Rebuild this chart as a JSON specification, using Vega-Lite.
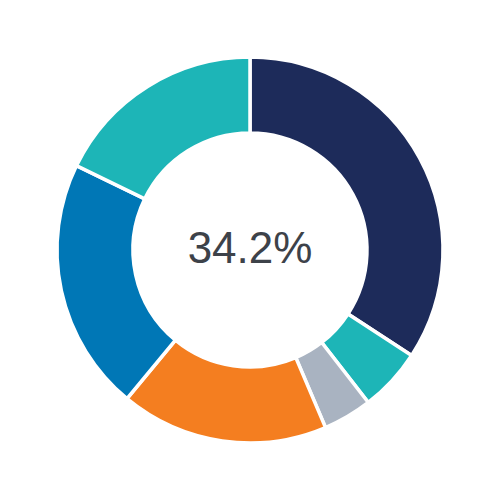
{
  "$schema": "https://vega.github.io/schema/vega-lite/v6.json",
  "width": 500,
  "height": 500,
  "autosize": {"type": "fit", "contains": "padding"},
  "padding": 0,
  "background": "white",
  "datasets": {
    "slices": [
      {"segment": "A", "order": 1, "share": 34.2},
      {"segment": "B", "order": 2, "share": 5.3},
      {"segment": "C", "order": 3, "share": 4.1},
      {"segment": "D", "order": 4, "share": 17.4},
      {"segment": "E", "order": 5, "share": 21.2},
      {"segment": "F", "order": 6, "share": 17.8}
    ],
    "centre": [{"label": "34.2%"}]
  },
  "layer": [
    {
      "data": {"name": "slices"},
      "mark": {"type": "arc", "outerRadius": 193, "innerRadius": 117, "stroke": "white", "strokeWidth": 3.5},
      "encoding": {
        "theta": {"field": "share", "type": "quantitative", "stack": true},
        "order": {"field": "order", "type": "quantitative"},
        "color": {
          "field": "segment",
          "type": "nominal",
          "legend": null,
          "scale": {
            "domain": ["A", "B", "C", "D", "E", "F"],
            "range": ["#1d2b5a", "#1db5b7", "#a9b3c1", "#f47e20", "#0077b6", "#1db5b7"]
          }
        }
      }
    },
    {
      "data": {"name": "centre"},
      "mark": {"type": "text", "font": "Liberation Sans", "fontSize": 44, "color": "#3d4249", "align": "center", "baseline": "alphabetic", "dy": 13},
      "encoding": {"text": {"field": "label"}}
    }
  ],
  "config": {"view": {"stroke": null}}
}
